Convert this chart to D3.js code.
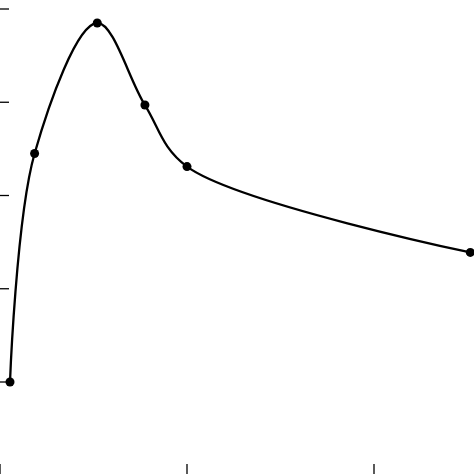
<!DOCTYPE html><html><head><script src="https://d3js.org/d3.v7.min.js"></script><style>body{margin:0;background:#fff}</style></head><body><script>
const xs=[0.107,0.37,1.04,1.55,2,5.03];
const ys=[0,2.45,3.85,2.97,2.31,1.39];
const xTicks=[0,2,4];
const yTicks=[0,1,2,3,4];
const svg=d3.select("body").append("svg").attr("width",474).attr("height",474);
const x=d3.scaleLinear().domain([0,4]).range([0,374]);
const y=d3.scaleLinear().domain([0,4]).range([382,9]);
svg.selectAll(".yt").data(yTicks).enter().append("line").attr("x1",0).attr("x2",9).attr("y1",d=>y(d)).attr("y2",d=>y(d)).attr("stroke","#000").attr("stroke-width",1.3);
svg.selectAll(".xt").data(xTicks).enter().append("line").attr("x1",d=>x(d)).attr("x2",d=>x(d)).attr("y1",464).attr("y2",474).attr("stroke","#000").attr("stroke-width",1.3);
const pts=xs.map((v,i)=>[v,ys[i]]);
svg.append("path").attr("d",d3.line().x(d=>x(d[0])).y(d=>y(d[1])).curve(d3.curveCatmullRom)(pts)).attr("fill","none").attr("stroke","#000").attr("stroke-width",2.3);
svg.selectAll("circle").data(pts).enter().append("circle").attr("cx",d=>x(d[0])).attr("cy",d=>y(d[1])).attr("r",4.5).attr("fill","#000");
</script></body></html>
